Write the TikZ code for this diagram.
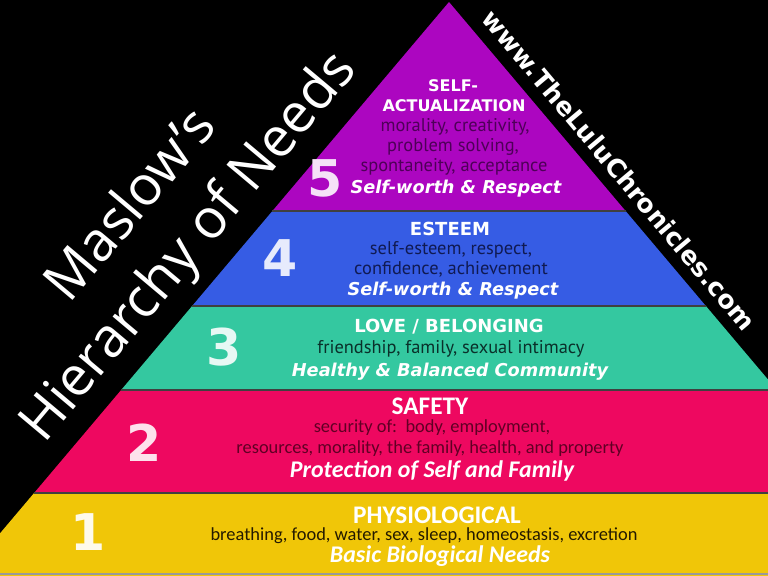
\documentclass[tikz,border=0pt]{standalone}
\usepackage{fontspec}
\setmainfont{DejaVu Sans}
\newfontfamily\bodyfont{PT Sans}
\newfontfamily\condfont{Carlito}
\newfontfamily\titlefont{Open Sans}

\definecolor{bandpurple}{RGB}{172,6,192}
\definecolor{bandblue}{RGB}{54,92,228}
\definecolor{bandgreen}{RGB}{52,200,160}
\definecolor{bandpink}{RGB}{238,8,96}
\definecolor{bandyellow}{RGB}{240,198,8}
\definecolor{txtpurple}{RGB}{78,0,88}
\definecolor{txtblue}{RGB}{16,26,82}
\definecolor{txtgreen}{RGB}{10,48,42}
\definecolor{txtpink}{RGB}{96,0,36}
\definecolor{txtyellow}{RGB}{36,26,0}

\tikzset{
  every node/.style={inner sep=0pt},
  head/.style={font=\bfseries\fontsize{12.8}{14}\selectfont, text=white},
  body/.style={font=\bodyfont\fontsize{13.1}{15}\selectfont},
  motto/.style={font=\bfseries\itshape\fontsize{12.6}{14}\selectfont, text=white},
  chead/.style={font=\condfont\bfseries\fontsize{18}{20}\selectfont, text=white},
  cbody/.style={font=\condfont\fontsize{13.1}{15}\selectfont},
  cmotto/.style={font=\condfont\bfseries\itshape\fontsize{17}{19}\selectfont, text=white},
  num/.style={font=\bfseries\fontsize{36}{40}\selectfont},
  title/.style={font=\titlefont\fontsize{39}{41}\selectfont, text=white},
  url/.style={font=\bfseries\fontsize{18}{20}\selectfont, text=white},
  sep/.style={draw=black!75, line width=1.4pt}
}

\begin{document}
\begin{tikzpicture}[x=0.025cm,y=-0.025cm]
  \useasboundingbox (0,0) rectangle (768,576);
  \fill[black] (0,0) rectangle (768,576);
  \clip (0,0) rectangle (768,576);

  % the pyramid
  \fill[bandpurple] (449,2) -- ({449+0.845*209},211) -- ({449-0.845*209},211) -- cycle;
  \foreach \ytop/\ybot/\col in {211/306/bandblue, 306/390/bandgreen, 390/493/bandpink, 493/576/bandyellow}
    \fill[\col] ({449-0.845*(\ytop-2)},\ytop) -- ({449+0.845*(\ytop-2)},\ytop)
      -- ({449+0.845*(\ybot-2)},\ybot) -- ({449-0.845*(\ybot-2)},\ybot) -- cycle;
  \foreach \y in {211,306,390,493}
    \draw[sep] ({449-0.845*(\y-2)},\y) -- ({449+0.845*(\y-2)},\y);
  \draw[draw=black!40, line width=1pt] (0,574) -- (768,574);

  % 5
  \node[num, text=white!88!bandpurple] (n5) at (325,178) {5};
  \node[head, font=\bfseries\fontsize{11.4}{13}\selectfont] (h5a) at (453,86) {SELF-};
  \node[head, font=\bfseries\fontsize{11.4}{13}\selectfont] (h5b) at (454,106) {ACTUALIZATION};
  \node[body, text=txtpurple] (b5a) at (455,127) {morality, creativity,};
  \node[body, text=txtpurple] (b5b) at (453,147) {problem solving,};
  \node[body, text=txtpurple] (b5c) at (454,167) {spontaneity, acceptance};
  \node[motto] (m5) at (456,189) {Self-worth \& Respect};

  % 4
  \node[num, text=white!88!bandblue] (n4) at (280,258) {4};
  \node[head] (h4) at (450,229) {ESTEEM};
  \node[body, text=txtblue] (b4a) at (451,250) {self-esteem, respect,};
  \node[body, text=txtblue] (b4b) at (451,269) {confidence, achievement};
  \node[motto] (m4) at (453,291) {Self-worth \& Respect};

  % 3
  \node[num, text=white!88!bandgreen] (n3) at (224,347) {3};
  \node[head] (h3) at (449,327) {LOVE / BELONGING};
  \node[body, text=txtgreen] (b3) at (451,349) {friendship, family, sexual intimacy};
  \node[motto] (m3) at (450,372) {Healthy \& Balanced Community};

  % 2
  \node[num, text=white!88!bandpink] (n2) at (144,443) {2};
  \node[chead] (h2) at (430,406) {SAFETY};
  \node[cbody, text=txtpink] (b2a) at (432,428) {security of:\ \ body, employment,};
  \node[cbody, text=txtpink] (b2b) at (430,449) {resources, morality, the family, health, and property};
  \node[cmotto] (m2) at (432,471) {Protection of Self and Family};

  % 1
  \node[num, text=white!92!bandyellow] (n1) at (88,532) {1};
  \node[chead] (h1) at (437,515) {PHYSIOLOGICAL};
  \node[cbody, text=txtyellow] (b1) at (424,536) {breathing, food, water, sex, sleep, homeostasis, excretion};
  \node[cmotto] (m1) at (440,556) {Basic Biological Needs};

  % side titles
  \node[title, rotate=50] (maslow) at (128,203) {Maslow’s};
  \node[title, rotate=50] (hier) at (190,248) {Hierarchy of Needs};
  \node[url, rotate=-50] (site) at (619,170) {www.TheLuluChronicles.com};
\end{tikzpicture}
\end{document}
